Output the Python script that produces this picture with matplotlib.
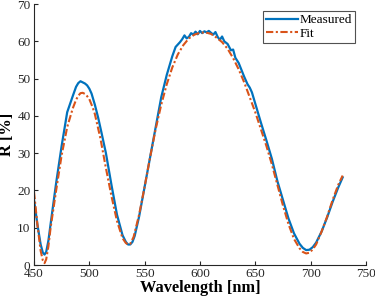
import matplotlib.pyplot as plt

# measured reflectance
wl_meas = [450, 453, 456, 458, 459.5, 461, 463, 465, 470, 475, 480, 485, 488, 490, 492, 494, 496, 498,
           500, 502, 505, 508, 511, 515, 520, 525, 530, 533, 535, 537, 539, 541, 545, 550, 555,
           560, 565, 570, 575, 578, 582, 584, 586, 588, 590, 592, 594, 596, 598, 600, 602, 604,
           606, 608, 610, 612, 614, 616, 618, 620, 622, 625, 628, 630, 632, 635, 640, 643, 645,
           647, 650, 655, 660, 665, 670, 675, 680, 685, 690, 693, 696, 699, 702, 705, 710, 715,
           720, 725, 729]
R_meas = [17.5, 11, 5.5, 3.3, 2.8, 3.5, 6.5, 11, 22, 32, 41, 45.3, 47.8, 48.8, 49.3, 49.0, 48.7, 48.2,
          47.3, 46, 43, 39.5, 35.5, 30, 21.5, 13.5, 8, 6.2, 5.5, 5.5, 6.2, 7.8, 13, 21, 29,
          37, 45, 51, 56, 58.5, 59.8, 60.6, 61.6, 60.8, 61.2, 62.2, 61.8, 62.6, 61.9, 62.8, 62.2, 62.7,
          62.4, 62.8, 62.3, 61.8, 62.5, 61.2, 60.4, 61.3, 60.0, 59.3, 57.6, 57.8, 55.6, 54.2, 50.5, 48.5, 47.6,
          46.3, 43.3, 38.3, 33.5, 28.5, 22.5, 17.5, 12.5, 8.5, 5.7, 4.6, 4.0, 4.1, 4.8, 6, 9, 12.8,
          17, 20.8, 23.5]

# fitted reflectance
wl_fit = [450, 453, 456, 458, 459.5, 461, 463, 465, 470, 475, 480, 485, 488, 490, 492, 494, 496,
          498, 500, 503, 505, 510, 515, 520, 525, 530, 533, 535, 537, 540, 545, 550, 555, 560,
          565, 570, 575, 580, 585, 590, 595, 600, 605, 610, 615, 620, 625, 630, 635, 640, 645,
          650, 655, 660, 665, 670, 675, 680, 685, 690, 693, 696, 699, 702, 705, 710, 715, 720,
          725, 729]
R_fit = [19.6, 11, 3.8, 1.2, 0.5, 1.5, 5, 10, 20, 29.5, 37, 42, 44.3, 45.4, 46.1, 46.2, 45.9,
         45.3, 44.5, 42.3, 40.5, 34, 26, 18.5, 11.8, 7.2, 5.9, 5.5, 5.7, 7.5, 13.5, 21, 29, 36.5,
         43, 48.5, 53, 56.5, 59, 60.8, 61.8, 62.3, 62.4, 62, 61, 59.8, 58, 55.5, 52.5, 49, 45,
         41, 36.5, 32, 27, 21.5, 16, 11, 7, 4.5, 3.5, 3.1, 3.3, 4.2, 5.5, 9, 13, 17.5,
         21.5, 24]

plt.rcParams['font.family'] = ['Liberation Serif', 'DejaVu Serif']

fig = plt.figure(figsize=(3.75, 3.02), dpi=100)
ax = fig.add_axes([0.0907, 0.1225, 0.885, 0.864])

ax.plot(wl_meas, R_meas, color='#0072BD', lw=1.6, label='Measured')
ax.plot(wl_fit, R_fit, color='#D95319', lw=1.5, ls='-.', dashes=(3.5, 1.2, 1, 1.2), label='Fit')

ax.set_xlim(450, 750)
ax.set_ylim(0, 70)
ax.set_xticks(range(450, 751, 50))
ax.set_yticks(range(0, 71, 10))
ax.tick_params(direction='in', length=3, labelsize=9.5, colors='#262626', pad=2.5)
for s in ['top', 'right']:
    ax.spines[s].set_visible(False)
for s in ['left', 'bottom']:
    ax.spines[s].set_color('#262626')
    ax.spines[s].set_linewidth(0.8)

ax.set_xlabel('Wavelength [nm]', fontsize=11.8, fontweight='bold', labelpad=0)
ax.set_ylabel('R [%]', fontsize=11.8, fontweight='bold', labelpad=1.5)

leg = ax.legend(loc='upper right', bbox_to_anchor=(0.975, 0.985), fontsize=9.5, frameon=True,
                fancybox=False, handlelength=2.4, handletextpad=0.1, borderpad=0.25,
                labelspacing=0.1, borderaxespad=0.2)
leg.get_frame().set_edgecolor('#262626')
leg.get_frame().set_linewidth(0.8)

fig.savefig('out.png', dpi=100)
